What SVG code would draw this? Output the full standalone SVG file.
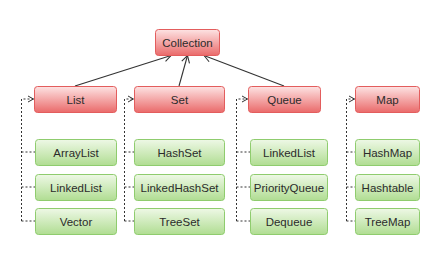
<svg xmlns="http://www.w3.org/2000/svg" width="433" height="255" viewBox="0 0 433 255">
<style>
.r{fill:url(#gr);stroke:#e35d5d;stroke-width:1}
.g{fill:url(#gg);stroke:#8fcc6e;stroke-width:1}
text{font-family:"Liberation Sans",Arial,sans-serif;font-size:11.5px;fill:#2b2b2b;text-anchor:middle;dominant-baseline:central}
.d{fill:none;stroke:#333;stroke-width:1;stroke-dasharray:2,2}
.s{fill:none;stroke:#333;stroke-width:1.1}
</style>
<defs>
<linearGradient id="gr" x1="0" y1="0" x2="0" y2="1"><stop offset="0" stop-color="#fde3e3"/><stop offset="1" stop-color="#ea6a6a"/></linearGradient>
<linearGradient id="gg" x1="0" y1="0" x2="0" y2="1"><stop offset="0" stop-color="#eef8e6"/><stop offset="1" stop-color="#b0dd92"/></linearGradient>
<marker id="a" markerWidth="10" markerHeight="10" refX="8" refY="5" orient="auto" markerUnits="userSpaceOnUse"><path d="M1,1 L8,5 L1,9" fill="none" stroke="#333" stroke-width="1.1"/></marker>
<marker id="b" markerWidth="8" markerHeight="8" refX="6.5" refY="4" orient="auto" markerUnits="userSpaceOnUse"><path d="M1,1 L6.5,4 L1,7" fill="none" stroke="#333" stroke-width="1"/></marker>
</defs>
<g id="connectors">
<path class="s" d="M75,86 L171,55.5" marker-end="url(#a)"/>
<path class="s" d="M179,86 L187.5,55.5" marker-end="url(#a)"/>
<path class="s" d="M284,86 L204,55.5" marker-end="url(#a)"/>
<path class="d" d="M21.5,221 V99 H33.5" marker-end="url(#b)"/>
<path class="d" d="M21.5,152 H35 M21.5,187 H35 M21.5,221 H35"/>
<path class="d" d="M124.5,221 V99 H133.5" marker-end="url(#b)"/>
<path class="d" d="M124.5,152 H134 M124.5,187 H134 M124.5,221 H134"/>
<path class="d" d="M236.5,221 V99 H247.5" marker-end="url(#b)"/>
<path class="d" d="M236.5,152 H250 M236.5,187 H250 M236.5,221 H250"/>
<path class="d" d="M346.5,221 V99 H354.5" marker-end="url(#b)"/>
<path class="d" d="M346.5,152 H355 M346.5,187 H355 M346.5,221 H355"/>
</g>
<g id="collection"><rect class="r" x="155.5" y="29.5" width="64" height="26" rx="3"/><text x="187.5" y="42.5">Collection</text></g>
<g id="list"><rect class="r" x="34.5" y="86.5" width="82" height="26" rx="3"/><text x="75.5" y="99.5">List</text></g>
<g id="set"><rect class="r" x="134.5" y="86.5" width="90" height="26" rx="3"/><text x="179.5" y="99.5">Set</text></g>
<g id="queue"><rect class="r" x="248.5" y="86.5" width="72" height="26" rx="3"/><text x="284.5" y="99.5">Queue</text></g>
<g id="map"><rect class="r" x="355.5" y="86.5" width="64" height="26" rx="3"/><text x="387.5" y="99.5">Map</text></g>
<g id="arraylist"><rect class="g" x="35.5" y="139.5" width="81" height="26" rx="3"/><text x="76" y="152.5">ArrayList</text></g>
<g id="linkedlist1"><rect class="g" x="35.5" y="174.5" width="81" height="26" rx="3"/><text x="76" y="187.5">LinkedList</text></g>
<g id="vector"><rect class="g" x="35.5" y="208.5" width="81" height="26" rx="3"/><text x="76" y="221.5">Vector</text></g>
<g id="hashset"><rect class="g" x="134.5" y="139.5" width="90" height="26" rx="3"/><text x="179.5" y="152.5">HashSet</text></g>
<g id="linkedhashset"><rect class="g" x="134.5" y="174.5" width="90" height="26" rx="3"/><text x="179.5" y="187.5">LinkedHashSet</text></g>
<g id="treeset"><rect class="g" x="134.5" y="208.5" width="90" height="26" rx="3"/><text x="179.5" y="221.5">TreeSet</text></g>
<g id="linkedlist2"><rect class="g" x="250.5" y="139.5" width="77" height="26" rx="3"/><text x="289" y="152.5">LinkedList</text></g>
<g id="priorityqueue"><rect class="g" x="250.5" y="174.5" width="77" height="26" rx="3"/><text x="289" y="187.5">PriorityQueue</text></g>
<g id="dequeue"><rect class="g" x="250.5" y="208.5" width="77" height="26" rx="3"/><text x="289" y="221.5">Dequeue</text></g>
<g id="hashmap"><rect class="g" x="355.5" y="139.5" width="64" height="26" rx="3"/><text x="387.5" y="152.5">HashMap</text></g>
<g id="hashtable"><rect class="g" x="355.5" y="174.5" width="64" height="26" rx="3"/><text x="387.5" y="187.5">Hashtable</text></g>
<g id="treemap"><rect class="g" x="355.5" y="208.5" width="64" height="26" rx="3"/><text x="387.5" y="221.5">TreeMap</text></g>
</svg>
